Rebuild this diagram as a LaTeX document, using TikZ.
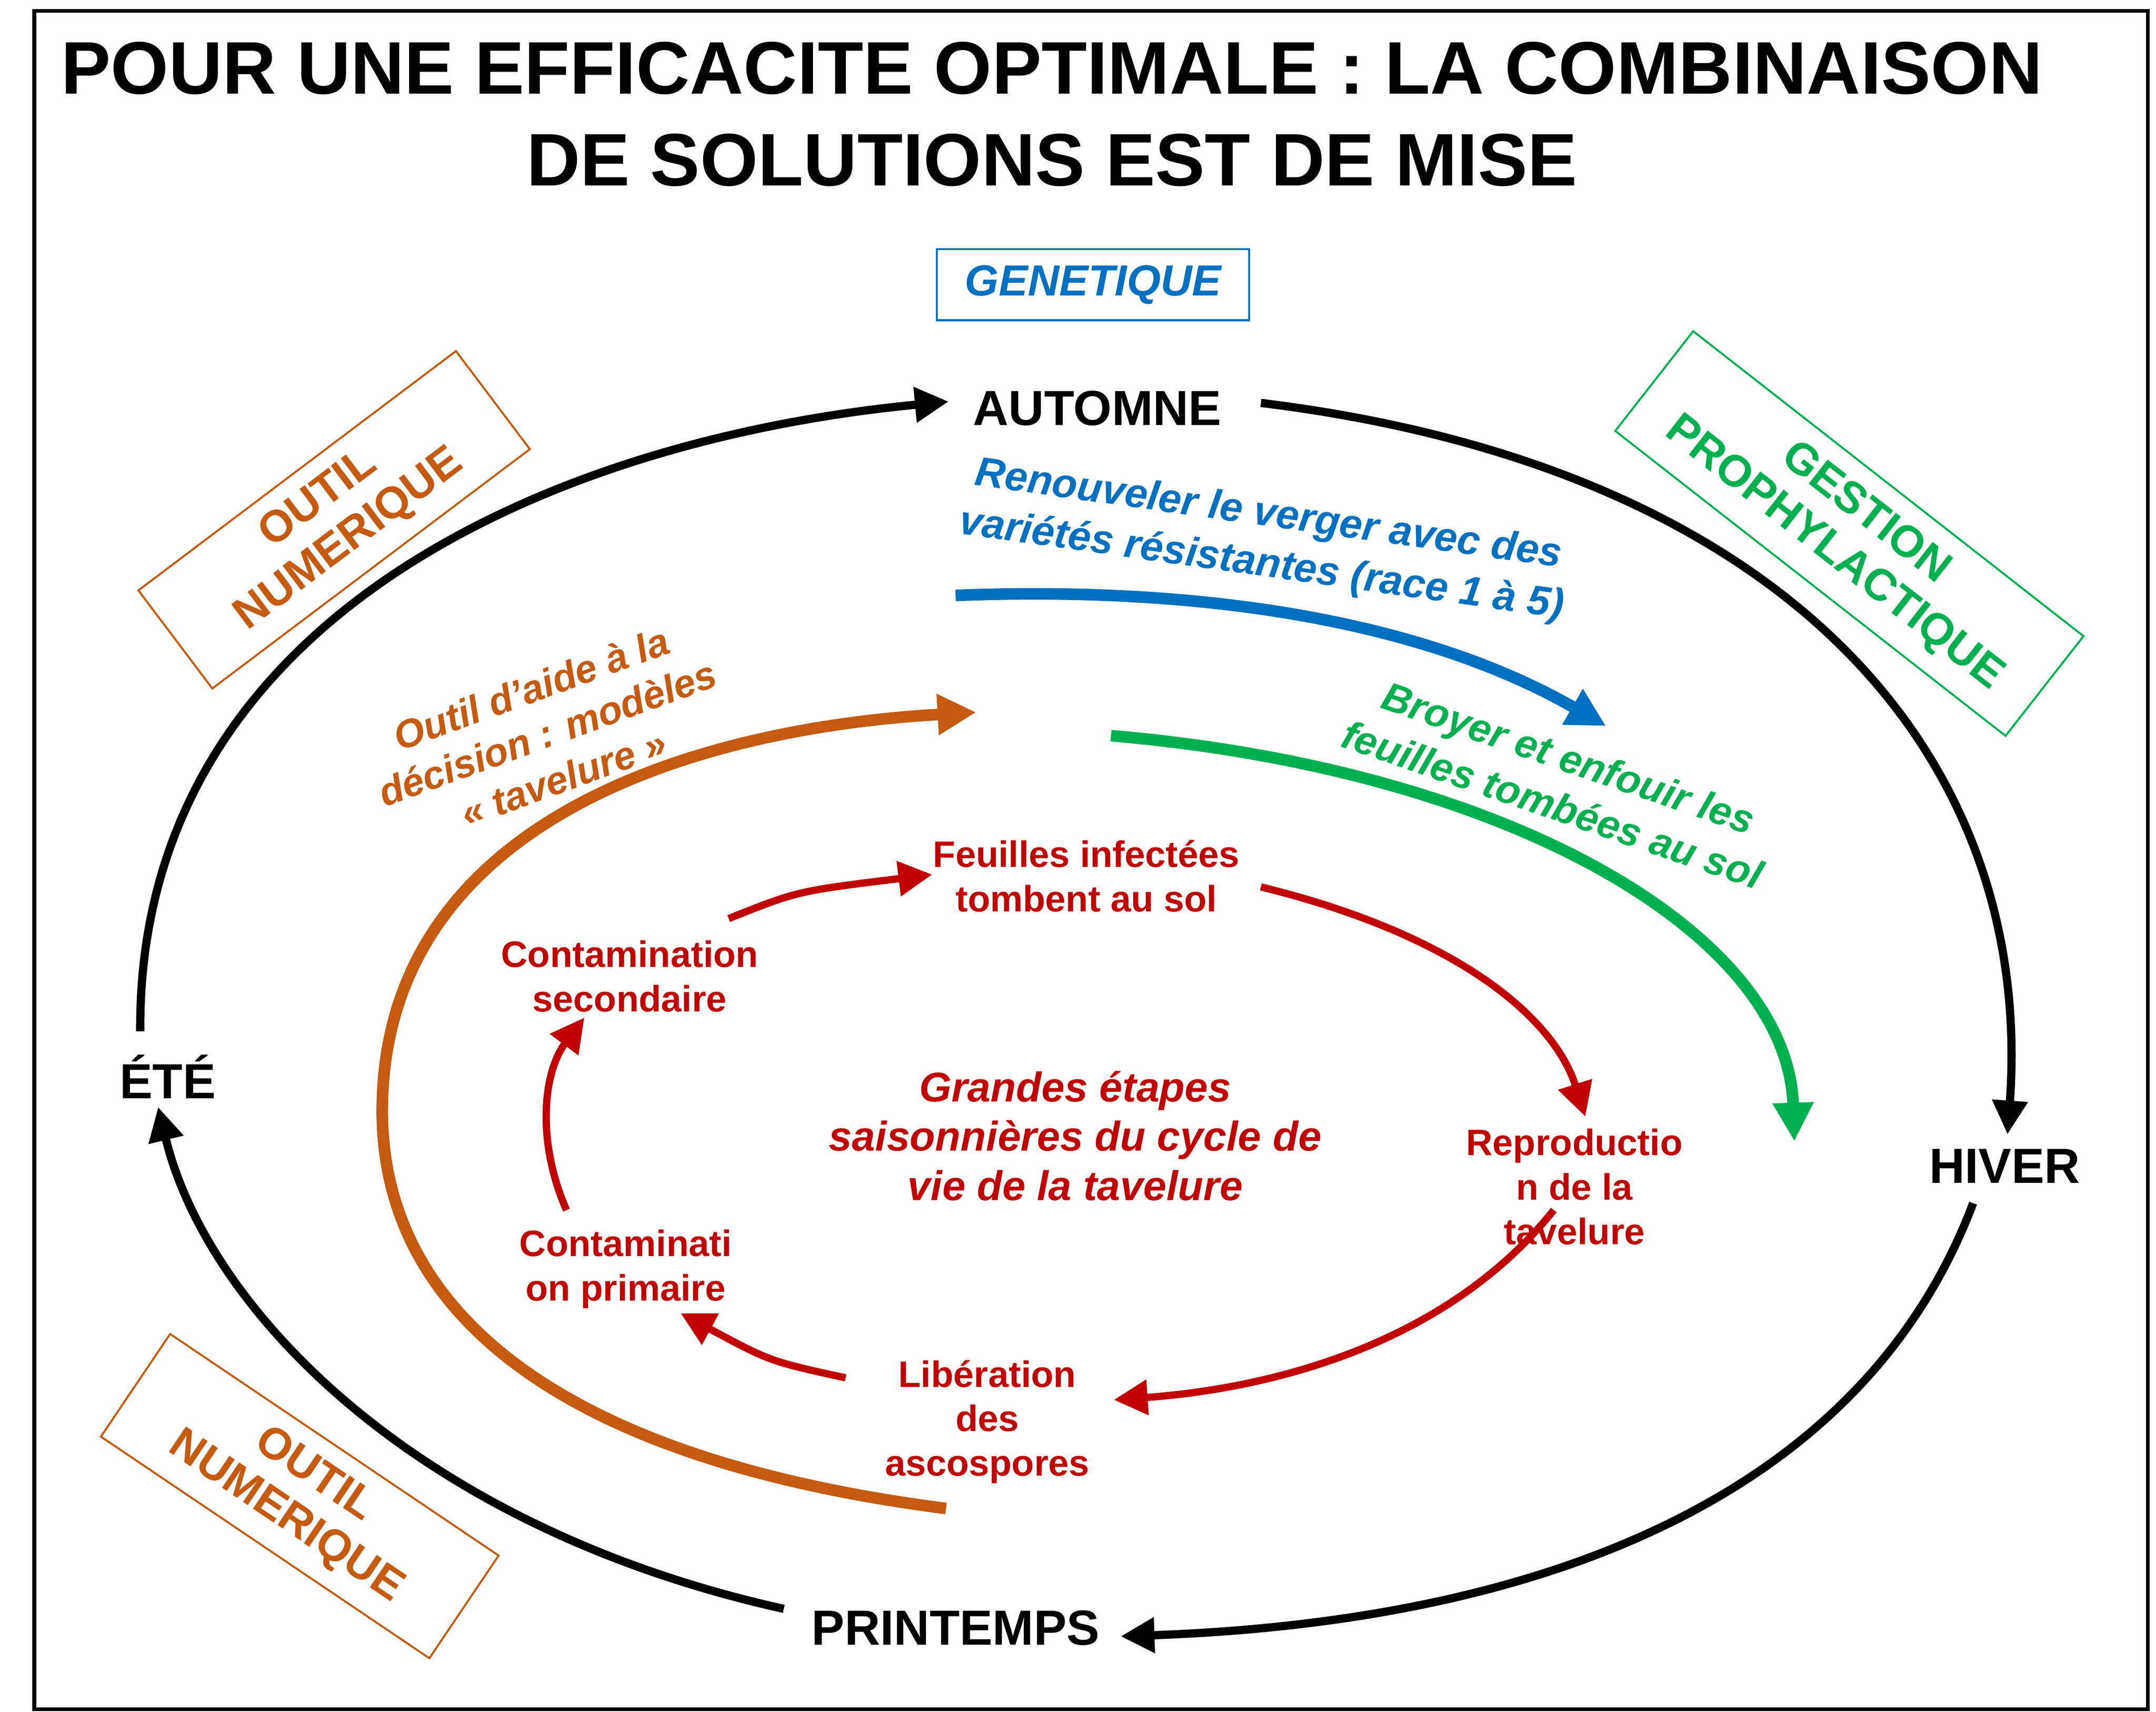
\documentclass[tikz,border=0pt]{standalone}
\usepackage{fontspec}
\setmainfont{Liberation Sans}
\usetikzlibrary{arrows.meta}
\definecolor{gblue}{HTML}{0070C0}
\definecolor{ggreen}{HTML}{00B050}
\definecolor{gorange}{HTML}{C55A11}
\definecolor{gred}{HTML}{C00000}
\tikzset{
  season/.style={font=\fontsize{10.2}{12}\selectfont\bfseries},
  lever/.style={draw, thin, font=\fontsize{9.2}{10.5}\selectfont\bfseries, align=center},
  stage/.style={text=gred, font=\fontsize{7.6}{9.2}\selectfont\bfseries, align=center},
  bigarrow/.style={line width=1.7pt, -{Triangle[length=7pt,width=7pt]}},
  colarrow/.style={line width=2.4pt, -{Triangle[length=8pt,width=8pt]}},
  redarrow/.style={gred, line width=1.5pt, -{Triangle[length=7pt,width=7pt]}}
}
\begin{document}
\begin{tikzpicture}[x=0.01cm, y=-0.01cm]
\useasboundingbox (0,0) rectangle (1568,1245);
\draw[line width=0.8pt] (25,8) rectangle (1562,1243);

% title
\node[font=\fontsize{15.4}{19}\selectfont\bfseries, align=center] (title) at (765,83)
  {POUR UNE EFFICACITE OPTIMALE : LA COMBINAISON\\DE SOLUTIONS EST DE MISE};

% seasons
\node[season] (aut) at (798,297) {AUTOMNE};
\node[season] (hiv) at (1458,848) {HIVER};
\node[season] (pri) at (695,1184) {PRINTEMPS};
\node[season] (ete) at (122,783) {ÉTÉ};

% levers
\node[lever, draw=gblue, text=gblue, font=\fontsize{9}{10}\selectfont\bfseries\itshape,
  minimum width=2.27cm, minimum height=0.51cm] (gen) at (795,207) {GENETIQUE};
\node[lever, draw=gorange, text=gorange, rotate=37, minimum width=2.89cm, minimum height=0.89cm] (outa) at (243,378) {OUTIL\\NUMERIQUE};
\node[lever, draw=ggreen, text=ggreen, rotate=-38, minimum width=3.6cm, minimum height=0.92cm] (gest) at (1345,388) {GESTION\\PROPHYLACTIQUE};
\node[lever, draw=gorange, text=gorange, rotate=-34, minimum width=2.88cm, minimum height=0.9cm] (outb) at (218,1088) {OUTIL\\NUMERIQUE};

% season cycle
\coordinate (c1) at (102,750); \coordinate (c2) at (690,292);
\coordinate (c3) at (917,293); \coordinate (c4) at (1460,825);
\coordinate (c5) at (1435,875); \coordinate (c6) at (815,1190);
\coordinate (c7) at (570,1170); \coordinate (c8) at (115,805);
\draw[bigarrow] (c1) .. controls (100,450) and (400,320) .. (c2);
\draw[bigarrow] (c3) .. controls (1300,340) and (1480,550) .. (c4);
\draw[bigarrow] (c5) .. controls (1350,1100) and (1100,1180) .. (c6);
\draw[bigarrow] (c7) .. controls (300,1110) and (150,950) .. (c8);

% actions
\node[text=gblue, font=\fontsize{8.5}{10.4}\selectfont\bfseries\itshape, align=center, rotate=-8] (gtxt) at (920,393)
  {Renouveler le verger avec des\\variétés résistantes (race 1 à 5)};
\node[text=ggreen, font=\fontsize{8.3}{10.2}\selectfont\bfseries\itshape, align=center, rotate=-19] (btxt) at (1135,568)
  {Broyer et enfouir les\\feuilles tombées au sol};
\node[text=gorange, font=\fontsize{8.1}{9.8}\selectfont\bfseries\itshape, align=center, rotate=20] (otxt) at (398,533)
  {Outil d’aide à la\\décision : modèles\\« tavelure »};
\coordinate (b1) at (695,433); \coordinate (b2) at (1168,528);
\coordinate (g1) at (808,535); \coordinate (g2) at (1305,830);
\coordinate (o1) at (688,1097); \coordinate (o2) at (710,518);
\draw[colarrow, gblue] (b1) .. controls (900,425) and (1050,460) .. (b2);
\draw[colarrow, ggreen] (g1) .. controls (1100,560) and (1300,680) .. (g2);
\draw[colarrow, gorange] (o1) .. controls (400,1060) and (278,950) .. (278,808)
  .. controls (278,600) and (500,530) .. (o2);

% scab cycle
\node[stage] (feu) at (790,637) {Feuilles infectées\\tombent au sol};
\node[stage] (csec) at (458,710) {Contamination\\secondaire};
\node[stage] (rep) at (1145,863) {Reproductio\\n de la\\tavelure};
\node[stage] (lib) at (718,1034) {Libération\\des\\ascospores};
\node[stage] (cpri) at (455,923) {Contaminati\\on primaire};
\node[text=gred, font=\fontsize{8.6}{10.2}\selectfont\bfseries\itshape, align=center] (cyc) at (782,826)
  {Grandes étapes\\saisonnières du cycle de\\vie de la tavelure};
\draw[redarrow] (530,668) .. controls (580,648) .. (678,636);
\draw[redarrow] (917,645) .. controls (1060,680) and (1130,740) .. (1153,812);
\draw[redarrow] (1130,880) .. controls (1050,980) and (920,1010) .. (810,1018);
\draw[redarrow] (615,1002) .. controls (560,990) .. (495,955);
\draw[redarrow] (412,880) .. controls (390,830) and (395,780) .. (425,740);
\end{tikzpicture}
\end{document}
